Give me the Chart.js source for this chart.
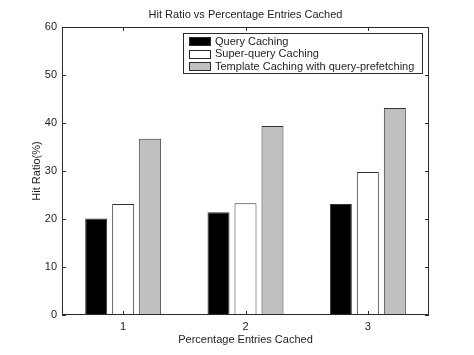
<!DOCTYPE html>
<html>
<head>
<meta charset="utf-8">
<script src="https://cdn.jsdelivr.net/npm/chart.js@4.4.1/dist/chart.umd.min.js"></script>
<style>
  html, body { margin: 0; padding: 0; background: #fff; }
  #wrap { width: 474px; height: 355px; position: relative; }
</style>
</head>
<body>
<div id="wrap"><canvas id="c" width="474" height="355"></canvas></div>
<script>
const categories = ['1', '2', '3'];
const queryCaching = [20.1, 21.4, 23.1];
const superQueryCaching = [23.1, 23.3, 29.8];
const templateCaching = [36.7, 39.4, 43.1];
const seriesLabels = ['Query Caching', 'Super-query Caching', 'Template Caching with query-prefetching'];
const yTicks = [0, 10, 20, 30, 40, 50, 60];
const chartTitle = 'Hit Ratio vs Percentage Entries Cached';

const FONT = 'Liberation Sans, Arial, Helvetica, sans-serif';
const AXIS = '#2a2a2a';
const TEXT = '#1e1e1e';

const framePlugin = {
  id: 'frame',
  afterDatasetsDraw(chart) {
    const ctx = chart.ctx, a = chart.chartArea;
    const xs = chart.scales.x, ys = chart.scales.y;
    ctx.save();
    ctx.strokeStyle = AXIS;
    ctx.lineWidth = 1;
    ctx.strokeRect(Math.round(a.left) + 0.5, Math.round(a.top) + 0.5,
                   Math.round(a.right - a.left) - 1, Math.round(a.bottom - a.top) - 1);
    const tl = 4;
    ctx.beginPath();
    categories.forEach((c, i) => {
      const x = Math.round(xs.getPixelForValue(i)) + 0.5;
      ctx.moveTo(x, a.bottom); ctx.lineTo(x, a.bottom - tl);
      ctx.moveTo(x, a.top); ctx.lineTo(x, a.top + tl);
    });
    yTicks.forEach(v => {
      const y = Math.round(ys.getPixelForValue(v)) + 0.5;
      ctx.moveTo(a.left, y); ctx.lineTo(a.left + tl, y);
      ctx.moveTo(a.right, y); ctx.lineTo(a.right - tl, y);
    });
    ctx.stroke();

    // title centred over the plot area
    ctx.font = '11px ' + FONT;
    ctx.fillStyle = TEXT;
    ctx.textAlign = 'center';
    ctx.textBaseline = 'middle';
    ctx.fillText(chartTitle, (a.left + a.right) / 2, 15);

    // legend box
    const lx = 183, ly = 33, lw = 240, lh = 41;
    ctx.fillStyle = '#fff';
    ctx.fillRect(lx, ly, lw, lh);
    ctx.strokeRect(lx + 0.5, ly + 0.5, lw - 1, lh - 1);
    ctx.textAlign = 'left';
    chart.data.datasets.forEach((ds, i) => {
      const cy = 41 + i * 12.5;
      ctx.fillStyle = ds.backgroundColor;
      ctx.fillRect(189.5, Math.round(cy - 4) + 0.5, 21, 8);
      ctx.strokeStyle = AXIS;
      ctx.strokeRect(189.5, Math.round(cy - 4) + 0.5, 21, 8);
      ctx.fillStyle = TEXT;
      ctx.fillText(ds.label, 215, cy + 0.5);
    });
    ctx.restore();
  }
};

new Chart(document.getElementById('c'), {
  type: 'bar',
  data: {
    labels: categories,
    datasets: [
      { label: seriesLabels[0], data: queryCaching, backgroundColor: '#000000', borderColor: '#333333', borderWidth: 1 },
      { label: seriesLabels[1], data: superQueryCaching, backgroundColor: '#ffffff', borderColor: '#333333', borderWidth: 1 },
      { label: seriesLabels[2], data: templateCaching, backgroundColor: '#c0c0c0', borderColor: '#333333', borderWidth: 1 }
    ]
  },
  options: {
    responsive: false,
    animation: false,
    devicePixelRatio: 1,
    categoryPercentage: 0.662,
    barPercentage: 0.815,
    layout: { padding: { left: 0, right: 45, top: 27, bottom: 0 } },
    plugins: {
      legend: { display: false },
      tooltip: { enabled: false },
      title: { display: false }
    },
    scales: {
      x: {
        grid: { display: false, drawTicks: false },
        border: { display: false },
        ticks: { color: TEXT, font: { family: FONT, size: 11 }, padding: 5 },
        title: { display: true, text: 'Percentage Entries Cached', color: TEXT,
                 font: { family: FONT, size: 11 }, padding: { top: 1, bottom: 8 } },
        afterFit(s) { s.height = 40; }
      },
      y: {
        min: 0, max: 60,
        afterBuildTicks(s) { s.ticks = yTicks.map(v => ({ value: v })); },
        grid: { display: false, drawTicks: false },
        border: { display: false },
        ticks: { color: TEXT, font: { family: FONT, size: 11 }, padding: 5 },
        title: { display: true, text: 'Hit Ratio(%)', color: TEXT,
                 font: { family: FONT, size: 11 }, padding: { top: 30, bottom: 0 } },
        afterFit(s) { s.width = 62; }
      }
    }
  },
  plugins: [framePlugin]
});
</script>
</body>
</html>
